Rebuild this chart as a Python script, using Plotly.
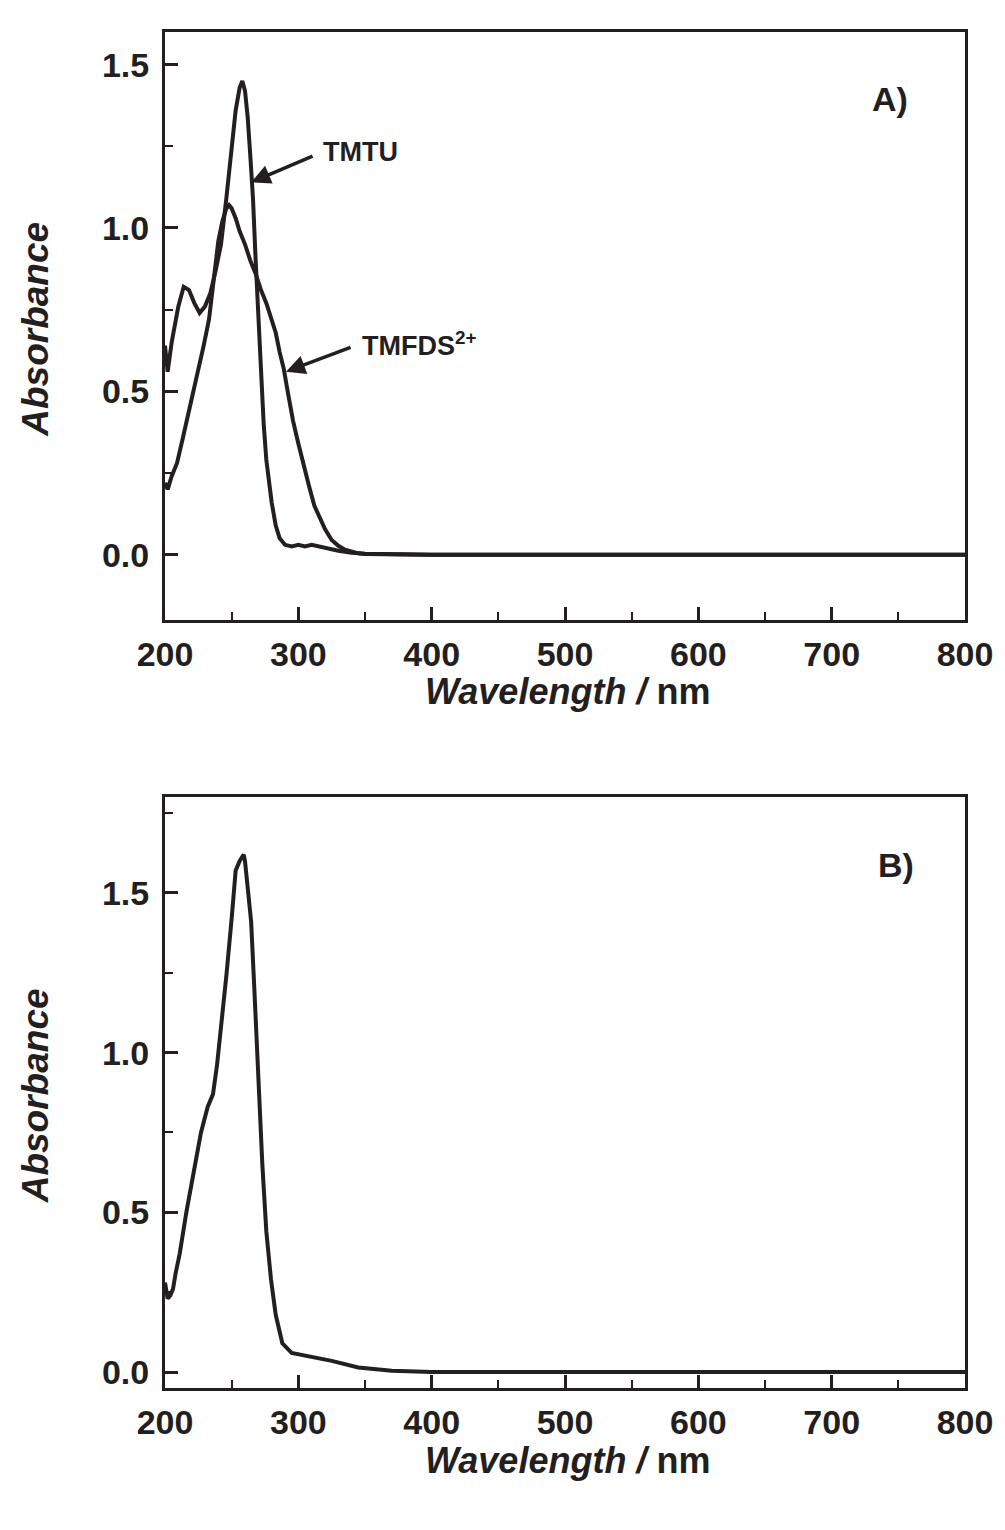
import plotly.graph_objects as go
from plotly.subplots import make_subplots

# ---- Panel A data ----
tmtu_wl = [200, 202, 205, 210, 214, 218, 222, 226, 230, 234, 238, 242, 246, 250, 253, 256, 258,
           260, 262, 264, 266, 268, 270, 272, 274, 276, 278, 280, 283, 286, 290, 295, 300, 305,
           310, 315, 320, 330, 340, 350, 400, 500, 600, 700, 800]
tmtu_abs = [0.64, 0.56, 0.65, 0.76, 0.82, 0.81, 0.77, 0.74, 0.76, 0.80, 0.87, 0.95, 1.09, 1.24, 1.36, 1.43, 1.45,
            1.42, 1.34, 1.22, 1.09, 0.90, 0.72, 0.57, 0.40, 0.29, 0.21, 0.16, 0.09, 0.05, 0.03, 0.025, 0.03, 0.025,
            0.03, 0.025, 0.02, 0.012, 0.006, 0.003, 0.0, 0.0, 0.0, 0.0, 0.0]

tmfds_wl = [200, 202, 205, 209, 213, 217, 221, 225, 229, 233, 237, 240, 243, 246, 248, 250, 253, 256,
            260, 264, 268, 272, 276, 280, 283, 286, 289, 292, 296, 300, 304, 308, 312, 316, 320, 325,
            330, 335, 340, 345, 350, 400, 500, 600, 700, 800]
tmfds_abs = [0.22, 0.20, 0.24, 0.28, 0.35, 0.42, 0.49, 0.57, 0.64, 0.72, 0.86, 0.96, 1.02, 1.06, 1.07, 1.06, 1.03, 0.99,
             0.95, 0.90, 0.86, 0.81, 0.77, 0.72, 0.68, 0.62, 0.57, 0.50, 0.41, 0.34, 0.27, 0.21, 0.15, 0.11, 0.078, 0.045,
             0.027, 0.015, 0.008, 0.004, 0.002, 0.0, 0.0, 0.0, 0.0, 0.0]

# ---- Panel B data ----
b_wl = [200, 202, 204, 206, 208, 211, 216, 221, 227, 232, 236, 239, 242, 246, 250, 253, 256, 259, 260,
        262, 264.6, 267, 269.5, 271, 273, 276, 279.5, 283, 288, 295, 308, 325, 345, 370, 400, 500, 600, 700, 800]
b_abs = [0.28, 0.23, 0.24, 0.26, 0.31, 0.37, 0.50, 0.62, 0.75, 0.83, 0.87, 0.96, 1.07, 1.24, 1.42, 1.57, 1.60, 1.62, 1.60,
         1.52, 1.41, 1.20, 0.94, 0.80, 0.65, 0.44, 0.29, 0.18, 0.09, 0.06, 0.05, 0.035, 0.014, 0.004, 0.0, 0.0, 0.0, 0.0, 0.0]

x_ticks = [200, 300, 400, 500, 600, 700, 800]

LC = "#231f20"
FONT = "Liberation Sans, Arial, sans-serif"

fig = make_subplots(rows=2, cols=1, vertical_spacing=0.1)
fig.add_trace(go.Scatter(x=tmtu_wl, y=tmtu_abs, mode="lines", line=dict(color=LC, width=4), showlegend=False), 1, 1)
fig.add_trace(go.Scatter(x=tmfds_wl, y=tmfds_abs, mode="lines", line=dict(color=LC, width=4), showlegend=False), 1, 1)
fig.add_trace(go.Scatter(x=b_wl, y=b_abs, mode="lines", line=dict(color=LC, width=4), showlegend=False), 2, 1)

common_x = dict(range=[200, 800], tickvals=x_ticks, ticks="inside", ticklen=13, tickwidth=2.5, tickcolor=LC,
                showline=True, linecolor=LC, linewidth=3, mirror=True, showgrid=False, zeroline=False,
                tickfont=dict(family=FONT, size=34, color=LC, weight="bold"), ticklabelstandoff=2,
                minor=dict(ticks="inside", ticklen=8, tickwidth=2, tickcolor=LC, dtick=50, tick0=200, showgrid=False))
common_y = dict(tick0=0, dtick=0.5, tickformat=".1f", ticks="inside", ticklen=13, tickwidth=2.5, tickcolor=LC,
                showline=True, linecolor=LC, linewidth=3, mirror=True, showgrid=False, zeroline=False,
                tickfont=dict(family=FONT, size=34, color=LC, weight="bold"), ticklabelstandoff=6,
                minor=dict(ticks="inside", ticklen=8, tickwidth=2, tickcolor=LC, dtick=0.25, tick0=0, showgrid=False))

fig.update_xaxes(**common_x)
fig.update_yaxes(**common_y)
fig.update_layout(
    width=1005, height=1530,
    margin=dict(l=165, r=35, t=32, b=142),
    paper_bgcolor="white", plot_bgcolor="white",
    xaxis=dict(domain=[0, 1]), xaxis2=dict(domain=[0, 1]),
    yaxis=dict(domain=[0.5664, 1.0], range=[-0.2, 1.6]),
    yaxis2=dict(domain=[0.0, 0.4358], range=[-0.05, 1.8]),
)

ann = []
for xr, yr in (("x domain", "y domain"), ("x2 domain", "y2 domain")):
    ann.append(dict(xref=xr, yref=yr, x=0.503, y=-0.122, showarrow=False, xanchor="center", yanchor="middle",
                    text="<b><i>Wavelength</i> <i>/</i> nm</b>", font=dict(family=FONT, size=36, color=LC)))
    ann.append(dict(xref=xr, yref=yr, x=-0.1615, y=0.495, showarrow=False, xanchor="center", yanchor="middle",
                    textangle=-90, text="<b><i>Absorbance</i></b>", font=dict(family=FONT, size=37, color=LC)))

ann += [
    dict(xref="x", yref="y", x=744, y=1.396, text="<b>A)</b>", showarrow=False,
         font=dict(family=FONT, size=34, color=LC)),
    dict(xref="x2", yref="y2", x=748, y=1.588, text="<b>B)</b>", showarrow=False,
         font=dict(family=FONT, size=34, color=LC)),
    dict(xref="x", yref="y", x=317, y=1.234, text="<b>TMTU</b>", showarrow=False, xanchor="left",
         font=dict(family=FONT, size=27, color=LC)),
    dict(xref="x", yref="y", x=264.6, y=1.14, axref="x", ayref="y", ax=311.8, ay=1.222, text="",
         showarrow=True, arrowhead=2, arrowsize=1.1, arrowwidth=3.5, arrowcolor=LC),
    dict(xref="x", yref="y", x=346.5, y=0.645, text="<b>TMFDS<sup>2+</sup></b>", showarrow=False, xanchor="left",
         font=dict(family=FONT, size=27, color=LC)),
    dict(xref="x", yref="y", x=290.7, y=0.56, axref="x", ayref="y", ax=340.3, ay=0.636, text="",
         showarrow=True, arrowhead=2, arrowsize=1.1, arrowwidth=3.5, arrowcolor=LC),
]
fig.update_layout(annotations=ann)

fig.write_html("out.html")
